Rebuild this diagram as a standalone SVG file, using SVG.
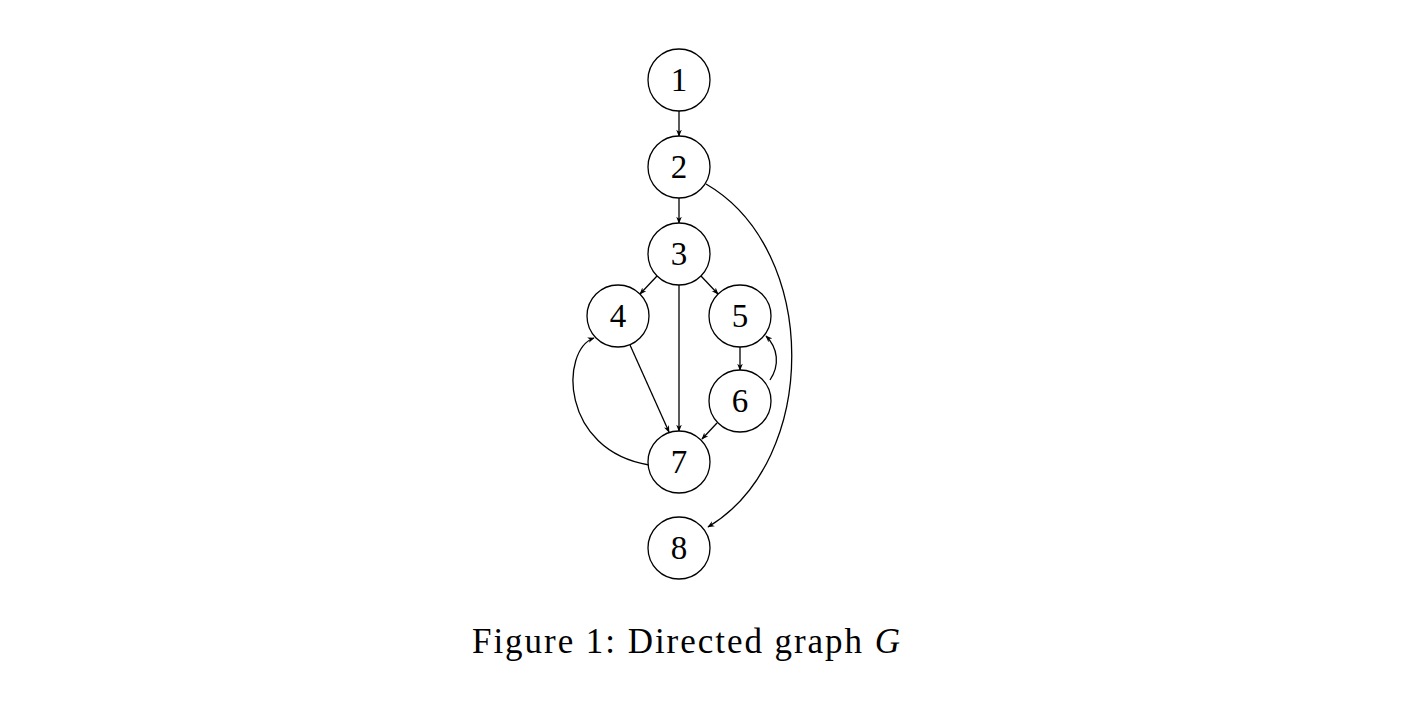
<svg xmlns="http://www.w3.org/2000/svg" width="1410" height="718" viewBox="0 0 1410 718">
<style>
.n circle{fill:#fff;stroke:#000;stroke-width:1.3}
.n text{font-family:"Liberation Serif",serif;font-size:33px;text-anchor:middle;dominant-baseline:central}
.e path{fill:none;stroke:#000;stroke-width:1.3;marker-end:url(#a)}
.cap{font-family:"Liberation Serif",serif;font-size:35px}
</style>
<defs><marker id="a" viewBox="0 0 10 10" refX="9" refY="5" markerWidth="7" markerHeight="7" orient="auto" markerUnits="userSpaceOnUse"><path d="M0,1 L10,5 L0,9 L3,5 Z" fill="#000"/></marker></defs>
<rect width="1410" height="718" fill="#fff"/>
<g id="connectors" class="e">
<path d="M679,111 L679,136"/>
<path d="M679,198 L679,223"/>
<path d="M657,276 L640,294"/>
<path d="M701,276 L718,294"/>
<path d="M679,285 L679,431"/>
<path d="M630,345 L669,432"/>
<path d="M740,347 L740,370"/>
<path d="M770,380 C780,365 778,348 766,336"/>
<path d="M717,423 L702,439"/>
<path d="M649,465 C560,450 560,350 594,338"/>
<path d="M706,184 C820,250 820,460 708,527"/>
</g>
<g id="n1" class="n"><circle cx="679" cy="80" r="31"/><text x="679" y="80">1</text></g>
<g id="n2" class="n"><circle cx="679" cy="167" r="31"/><text x="679" y="167">2</text></g>
<g id="n3" class="n"><circle cx="679" cy="254" r="31"/><text x="679" y="254">3</text></g>
<g id="n4" class="n"><circle cx="618" cy="316" r="31"/><text x="618" y="316">4</text></g>
<g id="n5" class="n"><circle cx="740" cy="316" r="31"/><text x="740" y="316">5</text></g>
<g id="n6" class="n"><circle cx="740" cy="401" r="31"/><text x="740" y="401">6</text></g>
<g id="n7" class="n"><circle cx="679" cy="462" r="31"/><text x="679" y="462">7</text></g>
<g id="n8" class="n"><circle cx="679" cy="548" r="31"/><text x="679" y="548">8</text></g>
<text class="cap" x="472" y="653" textLength="428" lengthAdjust="spacing">Figure 1: Directed graph <tspan font-style="italic">G</tspan></text>
</svg>
